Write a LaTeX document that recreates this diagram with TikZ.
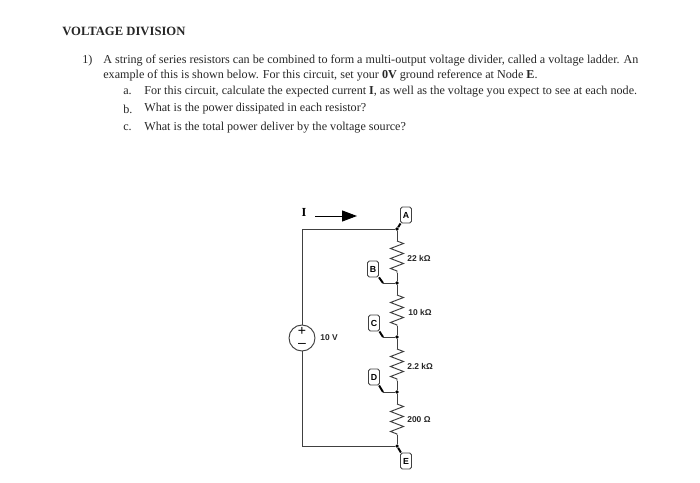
\documentclass[tikz,border=0pt]{standalone}
\usepackage{fontspec}
\setmainfont{Liberation Serif}
\setsansfont{Liberation Sans}
\usetikzlibrary{decorations.pathmorphing,arrows.meta}
\tikzset{
    wire/.style={draw=black!75, line width=0.55pt},
    stub/.style={draw=black, line width=1.1pt},
    res/.style={wire, decorate, decoration={zigzag, amplitude=0.13cm, segment length=0.2cm, pre length=0pt, post length=0pt}},
    pin/.style={rectangle, rounded corners=1pt, draw=black!75, line width=0.55pt, fill=white, minimum width=0.22cm, minimum height=0.32cm, inner sep=0pt, font=\sffamily\bfseries\fontsize{5}{5}\selectfont},
    val/.style={anchor=west, inner sep=0pt, font=\sffamily\bfseries\fontsize{4.8}{5}\selectfont, text=black!85},
    line/.style={anchor=west, inner sep=0pt, font=\fontsize{6.9}{8}\selectfont, text=black!85},
    dot/.style={circle, fill=black, minimum size=2pt, inner sep=0pt}
}
\begin{document}
\begin{tikzpicture}[x=0.02cm, y=-0.02cm]
    \useasboundingbox (0, 0) rectangle (700, 483);

    % question text
    \node (title) [line, font=\bfseries\fontsize{7.2}{8}\selectfont] at (62, 31) {VOLTAGE DIVISION};
    \node (num) [line] at (82, 60.5) {1)};
    \node (one) [line] at (103, 60.5) {A string of series resistors can be combined to form a multi-output voltage divider, called a voltage ladder. An};
    \node (two) [line] at (103, 75.5) {example of this is shown below. For this circuit, set your \textbf{0V} ground reference at Node \textbf{E}.};
    \node (la) [line] at (123, 91.5) {a.};
    \node (ta) [line] at (144, 91.5) {For this circuit, calculate the expected current \textbf{I}, as well as the voltage you expect to see at each node.};
    \node (lb) [line] at (123, 109) {b.};
    \node (tb) [line] at (144, 109) {What is the power dissipated in each resistor?};
    \node (lc) [line] at (123, 127.5) {c.};
    \node (tc) [line] at (144, 127.5) {What is the total power deliver by the voltage source?};

    % junctions
    \node (jA) [dot] at (397, 229) {};
    \node (jB) [dot] at (397, 283) {};
    \node (jC) [dot] at (397, 337) {};
    \node (jD) [dot] at (397, 392) {};
    \node (jE) [dot] at (397, 446) {};
    \coordinate (tl) at (302, 229);
    \coordinate (bl) at (302, 446);
    \coordinate (kB) at (383, 283);
    \coordinate (kC) at (383, 337);
    \coordinate (kD) at (383, 392);

    % resistor ends
    \coordinate (r1a) at (397, 241);
    \coordinate (r1b) at (397, 273);
    \coordinate (r2a) at (397, 295);
    \coordinate (r2b) at (397, 326);
    \coordinate (r3a) at (397, 349);
    \coordinate (r3b) at (397, 381);
    \coordinate (r4a) at (397, 404);
    \coordinate (r4b) at (397, 435);

    \node (src) [circle, draw=black!75, line width=0.55pt, minimum size=0.52cm, inner sep=0pt] at (302, 338) {};
    \node (plus) [inner sep=0pt, font=\sffamily\fontsize{8}{8}\selectfont] at (302, 331) {+};
    \node (minus) [inner sep=0pt, font=\sffamily\fontsize{8}{8}\selectfont] at (302, 345) {--};

    \draw[wire] (src) -- (tl) -- (jA);
    \draw[wire] (src) -- (bl) -- (jE);
    \draw[wire] (jA) -- (r1a);
    \draw[res] (r1a) -- (r1b);
    \draw[wire] (r1b) -- (jB) -- (r2a);
    \draw[res] (r2a) -- (r2b);
    \draw[wire] (r2b) -- (jC) -- (r3a);
    \draw[res] (r3a) -- (r3b);
    \draw[wire] (r3b) -- (jD) -- (r4a);
    \draw[res] (r4a) -- (r4b);
    \draw[wire] (r4b) -- (jE);

    % pins
    \node (pA) [pin] at (406, 215) {A};
    \node (pB) [pin] at (373, 269) {B};
    \node (pC) [pin] at (374, 323) {C};
    \node (pD) [pin] at (374, 377) {D};
    \node (pE) [pin] at (406, 461) {E};
    \draw[stub] (jA) -- (pA);
    \draw[wire] (jB) -- (kB);
    \draw[stub] (kB) -- (pB);
    \draw[wire] (jC) -- (kC);
    \draw[stub] (kC) -- (pC);
    \draw[wire] (jD) -- (kD);
    \draw[stub] (kD) -- (pD);
    \draw[stub] (jE) -- (pE);

    % values
    \node (v1) [val] at (407, 258) {22 kΩ};
    \node (v2) [val] at (408, 312) {10 kΩ};
    \node (v3) [val] at (407, 366) {2.2 kΩ};
    \node (v4) [val] at (407, 420) {200 Ω};
    \node (vs) [val] at (320, 338) {10 V};

    % current arrow
    \node (cur) [inner sep=0pt, font=\bfseries\fontsize{7}{8}\selectfont] at (304, 212) {I};
    \coordinate (ca) at (315, 216);
    \coordinate (cb) at (357, 216);
    \draw[wire, -{Triangle[length=0.3cm, width=0.22cm]}, draw=black] (ca) -- (cb);
\end{tikzpicture}
\end{document}
